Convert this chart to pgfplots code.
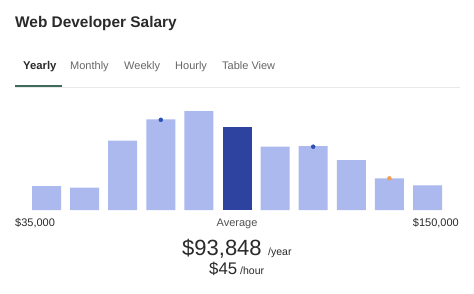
\documentclass[border=0pt]{standalone}
\usepackage{pgfplots}
\pgfplotsset{compat=1.18}
\usepackage{fontspec}
\setmainfont{Liberation Sans}
\definecolor{lightbar}{HTML}{ABB9EE}
\definecolor{darkbar}{HTML}{2E43A0}
\definecolor{dotblue}{HTML}{2B50B8}
\definecolor{dotorange}{HTML}{F0A050}
\definecolor{tabgreen}{HTML}{3D6B5C}
\definecolor{sepgray}{HTML}{E8E8E8}
\definecolor{tabgray}{HTML}{666666}
\definecolor{txt}{HTML}{2A2A2A}
\begin{document}
\begin{tikzpicture}[x=1pt,y=1pt]
\path[use as bounding box,fill=white] (0,0) rectangle (474,293);
\begin{axis}[
  at={(0,0)}, anchor=south west,
  width=474pt, height=293pt, scale only axis,
  axis lines=none, ticks=none,
  xmin=-1.2205, xmax=11.2205,
  ymin=-83, ymax=210,
  clip=false,
]
\addplot[ybar, bar width=29pt, bar shift=0pt, fill=lightbar, draw=none]
  coordinates {(0,24) (1,22.3) (2,69.3) (3,90.7) (4,99) (6,63.3) (7,64) (8,50) (9,31.7) (10,24.7)};
\addplot[ybar, bar width=29pt, bar shift=0pt, fill=darkbar, draw=none]
  coordinates {(5,83.3)};
\addplot[only marks, mark=*, mark size=2pt, color=dotblue]
  coordinates {(3,90.2) (7,63.3)};
\addplot[only marks, mark=*, mark size=2pt, color=dotorange]
  coordinates {(9,31.7)};
\end{axis}
% header
\node[anchor=base west, inner sep=0pt, text=txt, font=\fontsize{15.4}{18}\selectfont\bfseries] at (15,266) {Web Developer Salary};
\node[anchor=base west, inner sep=0pt, text=txt, font=\fontsize{11.3}{13}\selectfont\bfseries] at (23,223.5) {Yearly};
\node[anchor=base west, inner sep=0pt, text=tabgray, font=\fontsize{11}{13}\selectfont] at (70,223.5) {Monthly};
\node[anchor=base west, inner sep=0pt, text=tabgray, font=\fontsize{11}{13}\selectfont] at (124,223.5) {Weekly};
\node[anchor=base west, inner sep=0pt, text=tabgray, font=\fontsize{11}{13}\selectfont] at (175,223.5) {Hourly};
\node[anchor=base west, inner sep=0pt, text=tabgray, font=\fontsize{11}{13}\selectfont] at (222,223.5) {Table View};
\draw[sepgray, line width=1pt] (15,206) -- (460,206);
\draw[tabgreen, line width=2.6pt] (15,207) -- (62,207);
% bottom labels
\node[anchor=base west, inner sep=0pt, text=txt, font=\fontsize{11}{13}\selectfont] at (15,66.3) {\$35,000};
\node[anchor=base, inner sep=0pt, text=tabgray!80!black, font=\fontsize{11}{13}\selectfont] at (237,66.3) {Average};
\node[anchor=base east, inner sep=0pt, text=txt, font=\fontsize{11}{13}\selectfont] at (459,66.3) {\$150,000};
\node[anchor=base west, inner sep=0pt, text=txt, font=\fontsize{22}{24}\selectfont] at (182,38) {\$93,848};
\node[anchor=base west, inner sep=0pt, text=txt, font=\fontsize{10.5}{13}\selectfont] at (268,38) {/year};
\node[anchor=base west, inner sep=0pt, text=txt, font=\fontsize{16.8}{19}\selectfont] at (209,19) {\$45};
\node[anchor=base west, inner sep=0pt, text=txt, font=\fontsize{10.5}{13}\selectfont] at (240,19) {/hour};
\end{tikzpicture}
\end{document}
